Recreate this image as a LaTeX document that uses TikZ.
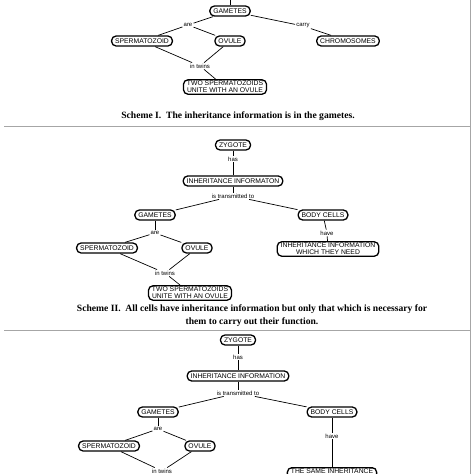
\documentclass[tikz,border=0pt]{standalone}
\usepackage{fontspec}
\setmainfont{Liberation Serif}
\setsansfont{Liberation Sans}
\usetikzlibrary{positioning}

\begin{document}
\begin{tikzpicture}[
    x=1pt, y=-1pt,
    cbox/.style={draw, line width=1.3pt, rounded corners=4.5pt, inner xsep=3.5pt, inner ysep=1.3pt, minimum height=10pt, align=center, font=\sffamily\fontsize{6.8}{7}\selectfont},
    linkword/.style={inner sep=1pt, font=\sffamily\fontsize{6}{6.5}\selectfont},
    wire/.style={line width=0.7pt},
    capt/.style={align=center, font=\bfseries\fontsize{9.6}{13}\selectfont},
    divider/.style={gray!70, line width=0.9pt}
]
    \useasboundingbox (0,0) rectangle (474,474);
    \clip (0,0) rectangle (474,474);

    % Frame
    \draw[divider] (470,0) -- (470,474);
    \draw[divider] (4,126) -- (470,126);
    \draw[divider] (4,330) -- (470,330);

    % Scheme I
    \coordinate (topI) at (230,0);
    \node[cbox] (gamI) at (230,11) {GAMETES};
    \node[linkword] (areI) at (188,25) {are};
    \node[linkword] (carryI) at (303,26) {carry};
    \node[cbox] (spermI) at (142,41) {SPERMATOZOID};
    \node[cbox] (ovuleI) at (230,41) {OVULE};
    \node[cbox] (chromI) at (348,41) {CHROMOSOMES};
    \node[linkword] (twinsI) at (200,66) {in twins};
    \node[cbox] (uniteI) at (225,87) {TWO SPERMATOZOIDS\\UNITE WITH AN OVULE};
    \node[capt] (captI) at (238,116) {Scheme I.\ \ The inheritance information is in the gametes.};

    \draw[wire] (topI) -- (gamI);
    \draw[wire] (gamI) -- (areI);
    \draw[wire] (areI) -- (spermI);
    \draw[wire] (areI) -- (ovuleI);
    \draw[wire] (gamI) -- (carryI);
    \draw[wire] (carryI) -- (chromI);
    \draw[wire] (spermI) -- (twinsI);
    \draw[wire] (ovuleI) -- (twinsI);
    \draw[wire] (twinsI) -- (uniteI);

    % Scheme II
    \node[cbox] (zygII) at (233,145) {ZYGOTE};
    \node[linkword] (hasII) at (233,159) {has};
    \node[cbox] (infoII) at (233,181) {INHERITANCE INFORMATON};
    \node[linkword] (transII) at (233,196) {is transmitted to};
    \node[cbox] (gamII) at (155,215) {GAMETES};
    \node[cbox] (bodyII) at (323,215) {BODY CELLS};
    \node[linkword] (areII) at (155,233) {are};
    \node[linkword] (haveII) at (327,233) {have};
    \node[cbox] (spermII) at (107,248) {SPERMATOZOID};
    \node[cbox] (ovuleII) at (197,248) {OVULE};
    \node[cbox] (needII) at (328,249) {INHERITANCE INFORMATION\\WHICH THEY NEED};
    \node[linkword] (twinsII) at (165,273) {in twins};
    \node[cbox] (uniteII) at (190,293) {TWO SPERMATOZOIDS\\UNITE WITH AN OVULE};
    \node[capt] (captII) at (252,316) {Scheme II.\ \ All cells have inheritance information but only that which is necessary for\\them to carry out their function.};

    \draw[wire] (zygII) -- (hasII);
    \draw[wire] (hasII) -- (infoII);
    \draw[wire] (infoII) -- (transII);
    \draw[wire] (transII) -- (gamII);
    \draw[wire] (transII) -- (bodyII);
    \draw[wire] (gamII) -- (areII);
    \draw[wire] (areII) -- (spermII);
    \draw[wire] (areII) -- (ovuleII);
    \draw[wire] (bodyII) -- (haveII);
    \draw[wire] (haveII) -- (needII);
    \draw[wire] (spermII) -- (twinsII);
    \draw[wire] (ovuleII) -- (twinsII);
    \draw[wire] (twinsII) -- (uniteII);

    % Scheme III
    \node[cbox] (zygIII) at (238,340) {ZYGOTE};
    \node[linkword] (hasIII) at (238,357) {has};
    \node[cbox] (infoIII) at (238,376) {INHERITANCE INFORMATION};
    \node[linkword] (transIII) at (238,393) {is transmitted to};
    \node[cbox] (gamIII) at (158,412) {GAMETES};
    \node[cbox] (bodyIII) at (332,412) {BODY CELLS};
    \node[linkword] (areIII) at (158,429) {are};
    \node[linkword] (haveIII) at (332,436) {have};
    \node[cbox] (spermIII) at (109,446) {SPERMATOZOID};
    \node[cbox] (ovuleIII) at (200,446) {OVULE};
    \node[linkword] (twinsIII) at (162,471) {in twins};
    \node[cbox, anchor=north, text height=5pt, text depth=12pt] (sameIII) at (332,467) {THE SAME INHERITANCE};

    \draw[wire] (zygIII) -- (hasIII);
    \draw[wire] (hasIII) -- (infoIII);
    \draw[wire] (infoIII) -- (transIII);
    \draw[wire] (transIII) -- (gamIII);
    \draw[wire] (transIII) -- (bodyIII);
    \draw[wire] (gamIII) -- (areIII);
    \draw[wire] (areIII) -- (spermIII);
    \draw[wire] (areIII) -- (ovuleIII);
    \draw[wire] (bodyIII) -- (haveIII);
    \draw[wire] (haveIII) -- (sameIII);
    \draw[wire] (spermIII) -- (twinsIII);
    \draw[wire] (ovuleIII) -- (twinsIII);
\end{tikzpicture}
\end{document}
